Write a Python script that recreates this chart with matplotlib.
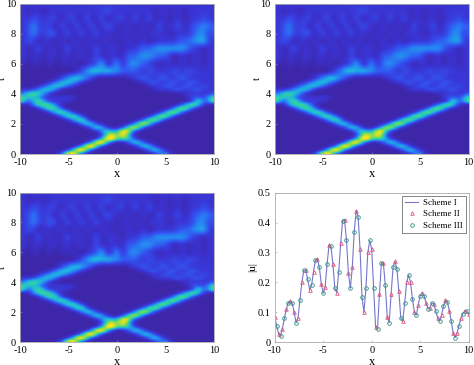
import numpy as np
import matplotlib
matplotlib.use("Agg")
import matplotlib.pyplot as plt
from matplotlib.colors import LinearSegmentedColormap

plt.rcParams['font.family'] = ['Liberation Serif', 'DejaVu Serif']
plt.rcParams['axes.unicode_minus'] = False

# |u| on a grid, one digit per x = -10, -9.5, ... 10
t_rows = [0, .25, .5, .75, 1, 1.25, 1.5, 1.75, 2, 2.25, 2.5, 2.75, 3, 3.25, 3.5,
          3.75, 4, 4.25, 4.5, 4.75, 5, 5.5, 6, 6.5, 7, 7.5, 8, 8.5, 9, 9.5, 10]
field_rows = [
    "0000000013 9931000000 0000000013 3100000000 0",
    "0000000000 1399310000 0000001352 1000000000 0",
    "0000000000 0013993100 0000135310 0000000000 0",
    "0000000000 0000139931 0013531000 0000000000 0",
    "0000000000 0000001399 4553100000 0000000000 0",
    "0000000000 0000000159 3961000000 0000000000 0",
    "0000000000 0000001353 3793100000 0000000000 0",
    "0000000000 0000135310 0137731000 0000000000 0",
    "0000000000 0013531000 0001377310 0000000000 0",
    "0000000000 1355100000 0000013663 1000000000 0",
    "0000000013 5531000000 0000000136 6310000000 0",
    "0000001355 3100000000 0000000001 3663100000 0",
    "0000135531 0000000000 0000000000 0136631000 0",
    "0013555310 0000000000 0000000000 0001356310 0",
    "6315531111 1000000000 0000000000 0000002613 6",
    "5444311111 1100000000 0000000000 0000012213 5",
    "2355431000 0000000000 0000000000 0000111111 2",
    "1112344310 0000000000 0000000011 1122112211 1",
    "0000123443 2100000000 0000000111 2211221121 1",
    "0000001234 4321000000 0000011221 1221122111 1",
    "0000000012 3443210000 0001122112 2112211111 1",
    "0000000000 0012344343 3222211211 1121121111 1",
    "1001001001 0100112401 4023322110 1101101101 1",
    "1101101101 1011012011 1022233322 2101101101 1",
    "1101201101 2011012011 1011122233 3333321101 1",
    "1121011011 0110110110 1011011011 1112223341 1",
    "1123112201 2012012011 0110110111 1011112331 2",
    "1123112012 0120120121 1011011012 0112012232 2",
    "1112111201 1201201201 1201201201 1011011121 1",
    "1101101111 1111111121 1111111101 1011011111 1",
    "1111111111 1111111111 1111111111 1111111111 1",
]
x_cols = np.arange(-10, 10.5, 0.5)

# profile of |u| at x = -10, -9.8, ... 10
u_profile = [.085, .055, .028, .02, .045, .08, .11, .132, .137, .13, .1, .065, .08, .14, .2, .24,
             .24, .21, .175, .19, .235, .275, .278, .25, .195, .163, .185, .26, .325, .32, .26, .18,
             .165, .235, .33, .405, .41, .34, .23, .18, .25, .37, .44, .42, .31, .15, .1, .18, .3,
             .34, .31, .18, .05, .045, .16, .265, .265, .19, .085, .065, .16, .25, .27, .245, .17,
             .08, .07, .13, .2, .225, .2, .145, .1, .09, .125, .155, .165, .155, .13, .112, .115,
             .13, .128, .105, .08, .07, .09, .12, .14, .135, .105, .07, .03, .015, .03, .055, .08,
             .095, .105, .103, .095]

parula = LinearSegmentedColormap.from_list("parula_like", [
    (.24, .15, .66), (.23, .2, .82), (.2, .32, .94), (.15, .52, .95), (.12, .72, .87),
    (.2, .82, .62), (.47, .86, .35), (.75, .87, .2), (.95, .9, .12), (1, .95, .1)])


def blur(values, sigma, axis):
    # gaussian smoothing along one axis, numpy only
    n = int(3 * sigma) + 1
    kernel = np.exp(-0.5 * (np.arange(-n, n + 1) / sigma) ** 2)
    kernel /= kernel.sum()
    padded = np.pad(values, [(n, n) if a == axis else (0, 0) for a in range(2)], mode='edge')
    return np.apply_along_axis(lambda v: np.convolve(v, kernel, mode='valid'), axis, padded)


def smooth_field():
    field = np.array([[int(c) for c in row.replace(" ", "")] for row in field_rows], dtype=float)
    x_fine = np.linspace(-10, 10, 241)
    t_fine = np.linspace(0, 10, 201)
    across = np.array([np.interp(x_fine, x_cols, row) for row in field])
    fine = np.array([np.interp(t_fine, t_rows, col) for col in across.T]).T
    return blur(blur(fine, 4, 1), 1.5, 0)


field_img = smooth_field()


def draw_field(ax):
    ax.imshow(field_img, origin='lower', extent=(-10, 10, 0, 10), aspect='auto',
              cmap=parula, vmin=0, vmax=8, interpolation='bilinear')
    ax.set_xticks([-10, -5, 0, 5, 10])
    ax.set_yticks([0, 2, 4, 6, 8, 10])
    ax.set_ylabel("t", fontsize=8)
    ax.yaxis.set_label_coords(-0.07, 0.5)


fig = plt.figure(figsize=(4.74, 3.65), dpi=100)
W, H = 474, 365


def add_axes(x0, x1, y0, y1):
    ax = fig.add_axes([x0 / W, 1 - y1 / H, (x1 - x0) / W, (y1 - y0) / H])
    ax.tick_params(labelsize=7.5, length=1.5, width=.4, pad=3, direction='in', color='#999999')
    for s in ax.spines.values():
        s.set_linewidth(.6)
        s.set_color('#aaaaaa')
    ax.set_xlabel("x", fontsize=9)
    ax.xaxis.set_label_coords(0.5, -0.095)
    return ax


draw_field(add_axes(20.3, 214, 3.7, 154))
draw_field(add_axes(275, 468.5, 3.7, 154))
draw_field(add_axes(20.3, 214, 192.5, 342))

ax = add_axes(274.7, 468.7, 192.7, 342)
x_profile = np.linspace(-10, 10, len(u_profile))
u = np.array(u_profile)
ax.plot(x_profile, u, color='#7676cc', lw=.8, label="Scheme I")
ax.plot(x_profile[::2], u[::2], ls='none', marker='^', ms=2.6, mfc='none', mew=.6,
        color='#d8557f', label="Scheme II")
ax.plot(x_profile[1::2], u[1::2], ls='none', marker='o', ms=2.6, mfc='none', mew=.6,
        color='#2f9080', label="Scheme III")
ax.set_xlim(-10, 10)
ax.set_ylim(0, .5)
ax.set_xticks([-10, -5, 0, 5, 10])
ax.set_yticks([0, .1, .2, .3, .4, .5])
ax.set_yticklabels(["0", "0.1", "0.2", "0.3", "0.4", "0.5"])
ax.set_ylabel("|u|", fontsize=8)
ax.yaxis.set_label_coords(-0.09, 0.5)
leg = ax.legend(loc='upper right', fontsize=6.4, frameon=True, fancybox=False, edgecolor='#555555',
                framealpha=1, borderpad=.35, labelspacing=.35, handlelength=1.5, handletextpad=.5,
                borderaxespad=0, bbox_to_anchor=(.985, .98))
leg.get_frame().set_linewidth(.5)

fig.savefig("out.png", dpi=100)
